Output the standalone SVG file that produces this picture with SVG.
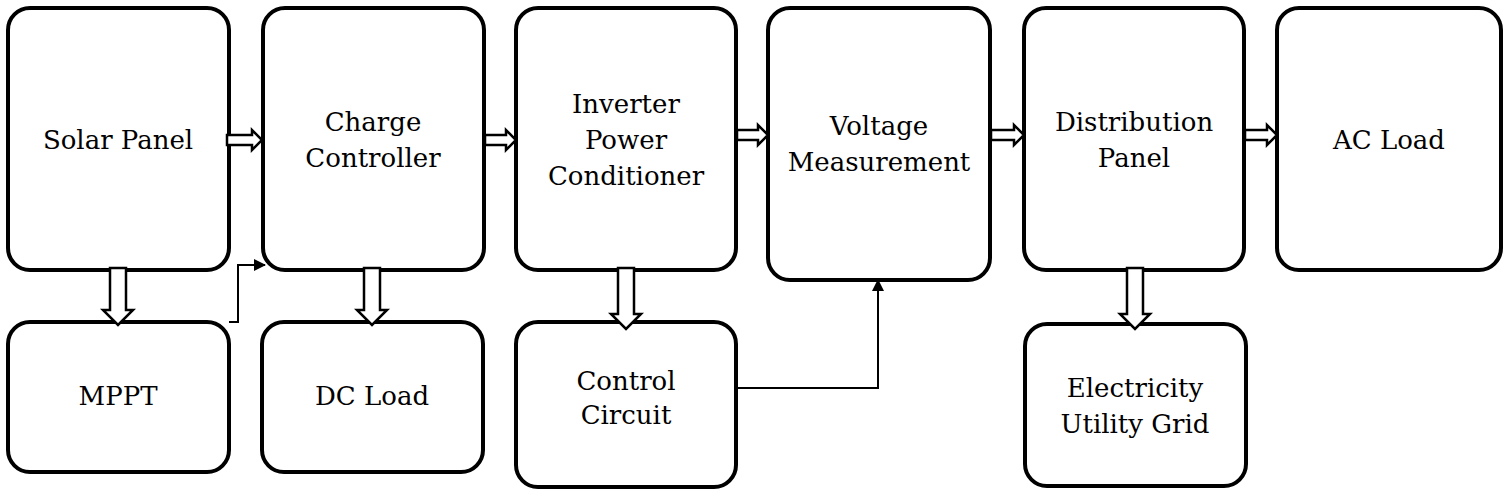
<svg xmlns="http://www.w3.org/2000/svg" width="1510" height="496" viewBox="0 0 1510 496">
<style>
.b{fill:#fff;stroke:#000;stroke-width:4}
.t{font-family:"DejaVu Serif",serif;font-size:26px;text-anchor:middle;fill:#000}
.ba{fill:#fff;stroke:#000;stroke-width:2.5}
.l{fill:none;stroke:#000;stroke-width:2}
</style>
<defs><marker id="ah" markerWidth="12" markerHeight="12" refX="11" refY="6" orient="auto" markerUnits="userSpaceOnUse"><path d="M0,0 L12,6 L0,12z"/></marker></defs>
<rect width="1510" height="496" fill="#fff"/>
<g id="solar"><rect class="b" x="8" y="8" width="221" height="262" rx="22"/><text class="t" x="118" y="149">Solar Panel</text></g>
<g id="charge"><rect class="b" x="263" y="8" width="221" height="262" rx="22"/><text class="t" x="373" y="131">Charge</text><text class="t" x="373" y="167">Controller</text></g>
<g id="inverter"><rect class="b" x="516" y="8" width="220" height="262" rx="22"/><text class="t" x="626" y="113">Inverter</text><text class="t" x="626" y="149">Power</text><text class="t" x="626" y="185">Conditioner</text></g>
<g id="voltage"><rect class="b" x="768" y="8" width="222" height="272" rx="22"/><text class="t" x="879" y="135">Voltage</text><text class="t" x="879" y="171">Measurement</text></g>
<g id="distribution"><rect class="b" x="1024" y="8" width="220" height="262" rx="22"/><text class="t" x="1134" y="131">Distribution</text><text class="t" x="1134" y="167">Panel</text></g>
<g id="acload"><rect class="b" x="1277" y="8" width="224" height="262" rx="22"/><text class="t" x="1389" y="149">AC Load</text></g>
<g id="mppt"><rect class="b" x="8" y="322" width="221" height="150" rx="22"/><text class="t" x="118" y="405">MPPT</text></g>
<g id="dcload"><rect class="b" x="262" y="322" width="221" height="150" rx="22"/><text class="t" x="372" y="405">DC Load</text></g>
<g id="control"><rect class="b" x="516" y="322" width="220" height="165" rx="22"/><text class="t" x="626" y="390">Control</text><text class="t" x="626" y="424">Circuit</text></g>
<g id="grid"><rect class="b" x="1025" y="324" width="221" height="162" rx="22"/><text class="t" x="1135" y="397">Electricity</text><text class="t" x="1135" y="433">Utility Grid</text></g>
<g id="connectors">
<path class="ba" d="M227,135 H252 V130 L262,140 L252,150 V145 H227Z"/>
<path class="ba" d="M485,135 H506 V130 L516,140 L506,150 V145 H485Z"/>
<path class="ba" d="M737,130 H758 V125 L768,135 L758,145 V140 H737Z"/>
<path class="ba" d="M991,130 H1014 V125 L1024,135 L1014,145 V140 H991Z"/>
<path class="ba" d="M1245,130 H1267 V125 L1277,135 L1267,145 V140 H1245Z"/>
<path class="ba" d="M110,268 V310 H103 L118,325 L133,310 H126 V268Z"/>
<path class="ba" d="M364,268 V310 H357 L372,325 L387,310 H380 V268Z"/>
<path class="ba" d="M618,268 V314 H611 L626,329 L641,314 H634 V268Z"/>
<path class="ba" d="M1127,268 V314 H1120 L1135,329 L1150,314 H1143 V268Z"/>
<path class="l" d="M229,322 H238 V265 H265" marker-end="url(#ah)"/>
<path class="l" d="M736,388 H878 V280" marker-end="url(#ah)"/>
</g>
</svg>
